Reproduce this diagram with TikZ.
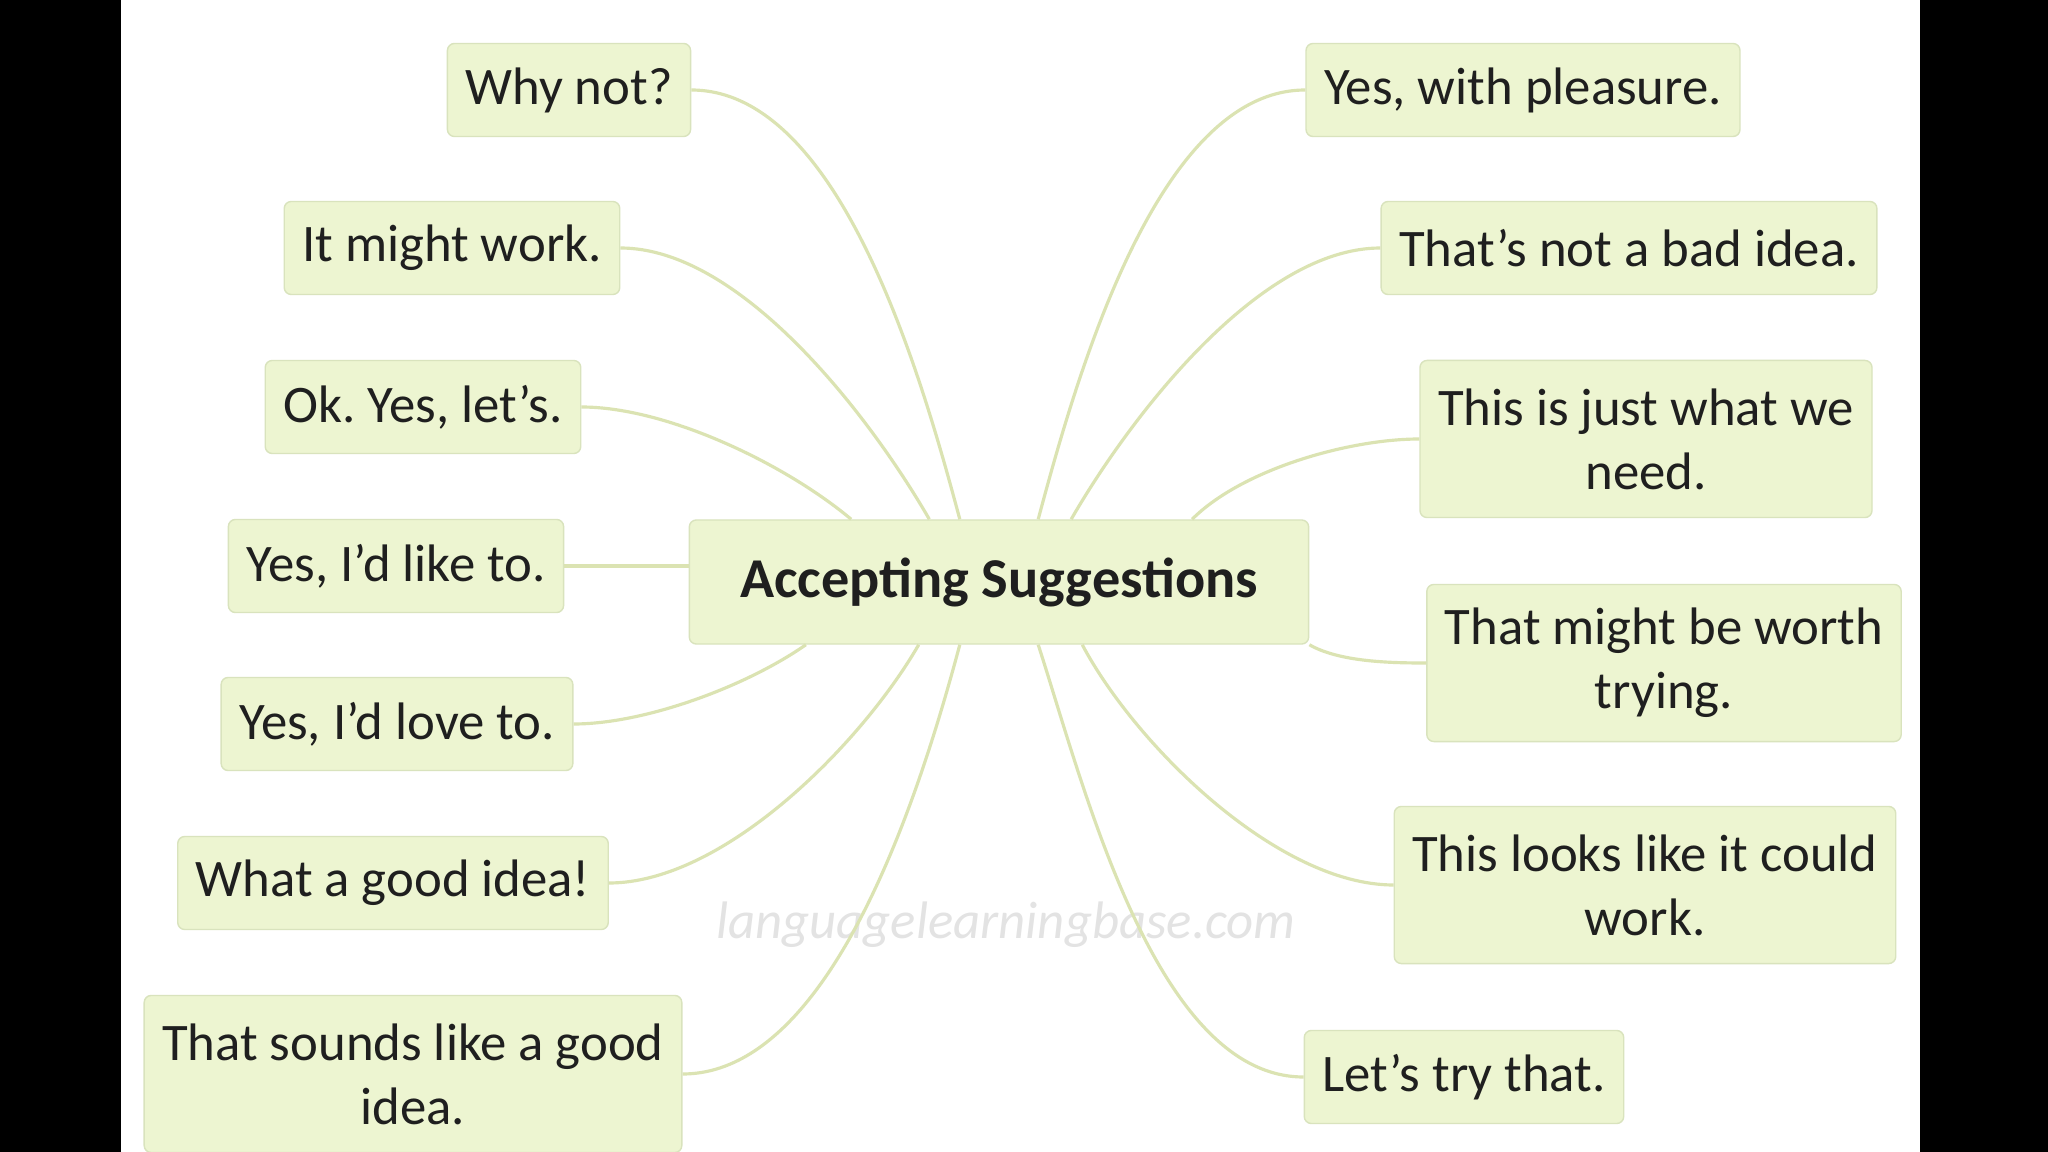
\documentclass[tikz,border=0pt]{standalone}
\usepackage{fontspec}
\setmainfont{Carlito}
\definecolor{lime(pale)}{rgb}{0.93, 0.96, 0.82}
\definecolor{lime(edge)}{rgb}{0.85, 0.89, 0.74}
\definecolor{lime(link)}{rgb}{0.86, 0.89, 0.70}
\usepackage{tikz}
\frenchspacing

\begin{document}
\begin{tikzpicture}[x=0.01cm, y=-0.01cm,
	leaf/.style={draw=lime(edge), fill=lime(pale), rounded corners=2pt, text=black!88,
		inner xsep=0.18cm, inner ysep=0.2cm, minimum height=0.93cm, align=center,
		font=\fontsize{15}{18.2}\selectfont},
	twoline/.style={leaf, minimum height=1.57cm},
	root/.style={leaf, minimum width=6.19cm, minimum height=1.24cm,
		font=\bfseries\fontsize{16}{19}\selectfont},
	link/.style={draw=lime(link), line width=0.9pt, looseness=0.75},
	watermark/.style={text=black!11, font=\itshape\fontsize{15}{18}\selectfont}]
	\useasboundingbox (0,0) rectangle (2048,1152);
	\fill[black] (0,0) rectangle (2048,1152);
	\fill[white] (121,0) rectangle (1920,1152);

	\node[watermark] (wm) at (1006,925) {languagelearningbase.com};

	\node[root] (ctr) at (999,582) {Accepting Suggestions};

	\node[leaf] (why) at (569,90) {Why not?};
	\node[leaf] (might) at (452,248) {It might work.};
	\node[leaf] (lets) at (423,407) {Ok. Yes, let's.};
	\node[leaf] (like) at (396,566) {Yes, I'd like to.};
	\node[leaf] (love) at (397,724) {Yes, I'd love to.};
	\node[leaf] (good) at (393,883) {What a good idea!};
	\node[twoline] (sounds) at (413,1074) {That sounds like a good\\idea.};

	\node[leaf] (pleasure) at (1523,90) {Yes, with pleasure.};
	\node[leaf] (notbad) at (1629,248) {That's not a bad idea.};
	\node[twoline] (need) at (1646,439) {This is just what we\\need.};
	\node[twoline] (worth) at (1664,663) {That might be worth\\trying.};
	\node[twoline] (could) at (1645,885) {This looks like it could\\work.};
	\node[leaf] (letstry) at (1464,1077) {Let's try that.};

	\draw[link] (ctr.122) to[out=105, in=0] (why.east);
	\draw[link] (ctr.138) to[out=120, in=0] (might.east);
	\draw[link] (ctr.157) to[out=140, in=0] (lets.east);
	\draw[link] (ctr.west |- like.east) -- (like.east);
	\draw[link] (ctr.-162) to[out=-145, in=0] (love.east);
	\draw[link] (ctr.-142) to[out=-120, in=0] (good.east);
	\draw[link] (ctr.-122) to[out=-105, in=0] (sounds.east);

	\draw[link] (ctr.58) to[out=75, in=180] (pleasure.west);
	\draw[link] (ctr.41) to[out=60, in=180] (notbad.west);
	\draw[link] (ctr.18) to[out=45, in=180] (need.west);
	\draw[link] (ctr.south east) to[out=-30, in=180] (worth.west);
	\draw[link] (ctr.-37) to[out=-62, in=180] (could.west);
	\draw[link] (ctr.-58) to[out=-72, in=180] (letstry.west);
\end{tikzpicture}
\end{document}
